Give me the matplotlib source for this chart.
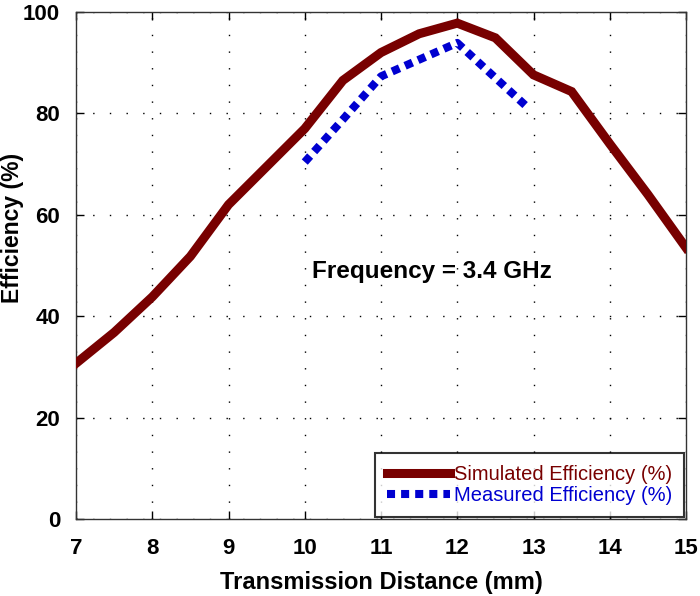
import matplotlib
matplotlib.use("Agg")
import matplotlib.pyplot as plt

# simulated efficiency, every 0.5 mm
sim_x = [7, 7.5, 8, 8.5, 9, 9.5, 10, 10.5, 11, 11.5, 12, 12.5, 13, 13.5, 14, 14.5, 15]
sim_y = [30.7, 36.8, 43.8, 51.8, 62.0, 69.5, 77.0, 86.5, 92.0, 95.7, 97.8, 94.9, 87.6, 84.3, 74.0, 64.0, 53.5]

# measured efficiency
meas_x = [10, 10.5, 11, 11.5, 12, 12.5, 12.9]
meas_y = [70.4, 78.8, 87.3, 90.6, 93.9, 87.0, 81.5]

x_ticks = [7, 8, 9, 10, 11, 12, 13, 14, 15]
y_ticks = [0, 20, 40, 60, 80, 100]

sim_color = "#780000"
meas_color = "#0000d0"

plt.rcParams['font.family'] = ['Liberation Sans', 'DejaVu Sans']

fig = plt.figure(figsize=(7, 5.96), dpi=100)
ax = fig.add_axes([0.1086, 0.1292, 0.8714, 0.8507])

ax.plot(sim_x, sim_y, color=sim_color, lw=6.5, solid_joinstyle='miter',
        label="Simulated Efficiency (%)", zorder=3)
ax.plot(meas_x, meas_y, color=meas_color, lw=5.8, linestyle=(0, (1, 0.75)),
        dash_capstyle='butt', label="Measured Efficiency (%)", zorder=4)

ax.set_xlim(7, 15)
ax.set_ylim(0, 100)
ax.set_xticks(x_ticks)
ax.set_yticks(y_ticks)
ax.grid(True, color='black', linestyle=(0, (1, 11)), lw=1)
ax.tick_params(direction='in', top=True, right=True, length=6, width=1,
               labelsize=16)
ax.tick_params(axis='x', pad=14)
ax.tick_params(axis='y', pad=11.5)
for lbl in ax.get_xticklabels() + ax.get_yticklabels():
    lbl.set_fontweight('bold')
for s in ax.spines.values():
    s.set_linewidth(1)
    s.set_color('#333333')

ax.set_xlabel("Transmission Distance (mm)", fontsize=17, fontweight='bold')
ax.set_ylabel("Efficiency (%)", fontsize=16.5, fontweight='bold')
ax.xaxis.set_label_coords(0.501, -0.1026)
ax.yaxis.set_label_coords(-0.086, 0.574)

ax.text(11.67, 48.8, "Frequency = 3.4 GHz", fontsize=17.5, fontweight='bold',
        ha='center', va='center')

leg = ax.legend(loc='lower right', fontsize=14.5, frameon=True, fancybox=False,
                edgecolor='black', handlelength=3.1, handletextpad=0.2,
                borderpad=0.6, labelspacing=0.1, borderaxespad=0.1)
leg.get_frame().set_linewidth(1.5)
for txt, c in zip(leg.get_texts(), [sim_color, meas_color]):
    txt.set_color(c)

fig.savefig("out.png", dpi=100)
